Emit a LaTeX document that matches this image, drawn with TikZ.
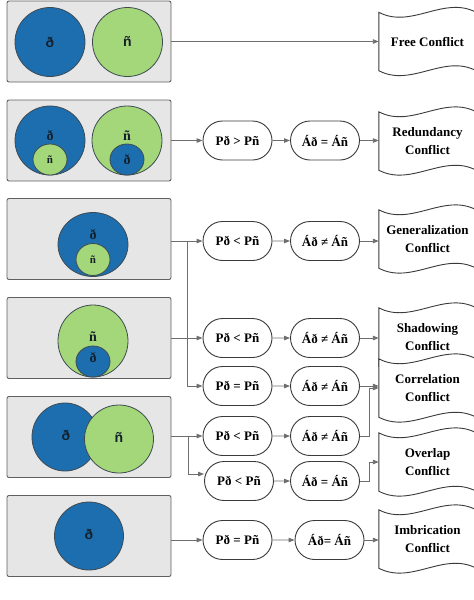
\documentclass[tikz,border=0pt]{standalone}
\usepackage{fontspec}
\setmainfont{Liberation Serif}
\newfontfamily\lsans{Liberation Sans}
\usetikzlibrary{shapes.misc,shapes.geometric,calc,arrows.meta,backgrounds}
\definecolor{cblue}{HTML}{1C6EAF}
\definecolor{cgreen}{HTML}{A3D77A}
\definecolor{cline}{HTML}{3E4A52}
\definecolor{panelfill}{HTML}{E6E6E6}
\definecolor{panelline}{HTML}{606060}
\definecolor{nodeline}{HTML}{3A3A3A}
\definecolor{connline}{HTML}{6E6E6E}
\definecolor{ctext}{HTML}{14202C}
\begin{document}
\begin{tikzpicture}[x=1pt,y=-1pt,
  panel/.style={draw=panelline, fill=panelfill, rounded corners=2pt, minimum width=164pt, minimum height=81pt, inner sep=0pt, line width=0.9pt},
  bc/.style={ellipse, draw=cline, fill=cblue, line width=0.8pt, inner sep=0pt},
  gc/.style={ellipse, draw=cline, fill=cgreen, line width=0.8pt, inner sep=0pt},
  biglab/.style={text=ctext, font=\bfseries\fontsize{14}{16}\selectfont, inner sep=0pt},
  biglabs/.style={text=ctext, font=\lsans\bfseries\fontsize{14}{16}\selectfont, inner sep=0pt},
  smalllab/.style={text=ctext, font=\bfseries\fontsize{11}{13}\selectfont, inner sep=0pt},
  cond/.style={rounded rectangle, draw=nodeline, fill=white, line width=0.9pt, minimum width=69pt, minimum height=39pt, inner sep=0pt, font=\bfseries\fontsize{13}{15}\selectfont},
  flagbox/.style={minimum width=97pt, minimum height=58pt, inner sep=0pt, align=center, font=\bfseries\fontsize{13}{18}\selectfont},
  flagline/.style={draw=nodeline, fill=white, line width=0.9pt},
  conn/.style={draw=connline, line width=0.9pt, -{Triangle[length=6pt,width=4.5pt]}},
]
\useasboundingbox (0,0) rectangle (474,600);
\clip (0,0) rectangle (474,600);

% ---------- panels ----------
\node[panel] (p1) at (89,41.5) {};
\node[panel] (p2) at (89,140.5) {};
\node[panel] (p3) at (89,239) {};
\node[panel] (p4) at (89,338) {};
\node[panel] (p5) at (89,437) {};
\node[panel] (p6) at (89,536) {};

% panel 1
\node[bc, minimum width=70pt, minimum height=69pt] (c1a) at (50,42) {};
\node[gc, minimum width=70pt, minimum height=69pt] (c1b) at (127.5,42) {};
\node[biglabs] (l1a) at (50,42) {ð};
\node[biglabs] (l1b) at (127.5,41) {ñ};

% panel 2
\node[bc, minimum width=70pt, minimum height=69pt] (c2a) at (50,140.5) {};
\node[gc, minimum width=34pt, minimum height=31pt] (c2as) at (50,159.5) {};
\node[gc, minimum width=70pt, minimum height=69pt] (c2b) at (127,140.5) {};
\node[bc, minimum width=34pt, minimum height=31pt] (c2bs) at (127,159.5) {};
\node[biglab] (l2a) at (50,136) {ð};
\node[smalllab] (l2as) at (50,159.5) {ñ};
\node[biglab] (l2b) at (127,136) {ñ};
\node[biglab] (l2bs) at (127,159.5) {ð};

% panel 3
\node[bc, minimum width=70pt, minimum height=64pt] (c3) at (93,244.5) {};
\node[gc, minimum width=34pt, minimum height=32pt] (c3s) at (93,259.5) {};
\node[biglab] (l3) at (93,235) {ð};
\node[smalllab] (l3s) at (93,259.5) {ñ};

% panel 4
\node[gc, minimum width=70pt, minimum height=72pt] (c4) at (93,341) {};
\node[bc, minimum width=34pt, minimum height=31pt] (c4s) at (93,361.5) {};
\node[biglab] (l4) at (93,337) {ñ};
\node[biglab] (l4s) at (93,357.5) {ð};

% panel 5
\node[bc, minimum width=66pt, minimum height=68pt] (c5a) at (65,437) {};
\node[gc, minimum width=69pt, minimum height=68pt] (c5b) at (119,439) {};
\node[biglabs] (l5a) at (66,435) {ð};
\node[biglabs] (l5b) at (119,437) {ñ};

% panel 6
\node[bc, minimum width=69pt, minimum height=68pt] (c6) at (89,536) {};
\node[biglabs] (l6) at (89,534) {ð};

% ---------- condition nodes ----------
\node[cond] (P2) at (237.5,140.5) {Pð > Pñ};
\node[cond] (A2) at (325,140.5) {Áð = Áñ};
\node[cond] (P3) at (237.5,241) {Pð < Pñ};
\node[cond] (A3) at (325,241) {Áð ≠ Áñ};
\node[cond] (P4) at (237.5,338) {Pð < Pñ};
\node[cond] (A4) at (325,338) {Áð ≠ Áñ};
\node[cond] (P5) at (237.5,386) {Pð = Pñ};
\node[cond] (A5) at (325,386) {Áð ≠ Áñ};
\node[cond] (P6) at (237.5,436) {Pð < Pñ};
\node[cond] (A6) at (325,436) {Áð ≠ Áñ};
\node[cond] (P7) at (239,481) {Pð < Pñ};
\node[cond] (A7) at (325,481) {Áð = Áñ};
\node[cond] (P8) at (237.5,540) {Pð = Pñ};
\node[cond] (A8) at (329.5,540) {Áð= Áñ};

% ---------- flags ----------
\node[flagbox] (f1) at (427.5,41.5) {Free Conflict};
\node[flagbox] (f2) at (427.5,141) {Redundancy\\Conflict};
\node[flagbox] (f3) at (427.5,239) {Generalization\\Conflict};
\node[flagbox] (f4) at (427.5,337) {Shadowing\\Conflict};
\node[flagbox] (f5) at (427.5,388) {Correlation\\Conflict};
\node[flagbox] (f6) at (427.5,462) {Overlap\\Conflict};
\node[flagbox] (f7) at (427.5,539) {Imbrication\\Conflict};

\begin{scope}[on background layer]
\clip (0,0) rectangle (474,600);
\foreach \f in {f1,f2,f3,f4,f5,f6,f7}{
  \path[flagline] (\f.north west)
    .. controls ($(\f.north west)!1/3!(\f.north east)+(0,17)$) and ($(\f.north west)!2/3!(\f.north east)+(0,-17)$) .. (\f.north east)
    -- (\f.south east)
    .. controls ($(\f.south west)!2/3!(\f.south east)+(0,-17)$) and ($(\f.south west)!1/3!(\f.south east)+(0,17)$) .. (\f.south west)
    -- cycle;
}
\end{scope}

% ---------- connectors ----------
\draw[conn] (p1.east |- f1.west) -- (f1.west);
\draw[conn] (p2.east |- P2.west) -- (P2.west);
\draw[conn] (P2) -- (A2);
\draw[conn] (A2.east) -- (A2.east -| f2.west);

\coordinate (b3) at (187,241);
\draw[conn] (p3.east |- P3.west) -- (P3.west);
\draw[conn] (b3) |- (P5.west);
\draw[conn] (P3) -- (A3);
\draw[conn] (A3.east) -- (A3.east -| f3.west);

\draw[conn] (p4.east |- P4.west) -- (P4.west);
\draw[conn] (P4) -- (A4);
\draw[conn] (A4.east) -- (A4.east -| f4.west);

\draw[conn] (P5) -- (A5);
\draw[conn] (A5.east) -- (A5.east -| f5.west);

\coordinate (b5) at (188,436);
\draw[conn] (p5.east |- P6.west) -- (P6.west);
\draw[conn] (b5) |- ([yshift=7pt]P7.west);
\draw[conn] (P6) -- (A6);
\draw[conn] (A6.east) -- ++(9,0) |- (f5.west);

\draw[conn] (P7) -- (A7);
\draw[conn] (A7.east) -- ++(9,0) |- (f6.west);

\draw[conn] (p6.east |- P8.west) -- (P8.west);
\draw[conn] (P8) -- (A8);
\draw[conn] (A8.east) -- (A8.east -| f7.west);
\end{tikzpicture}
\end{document}
